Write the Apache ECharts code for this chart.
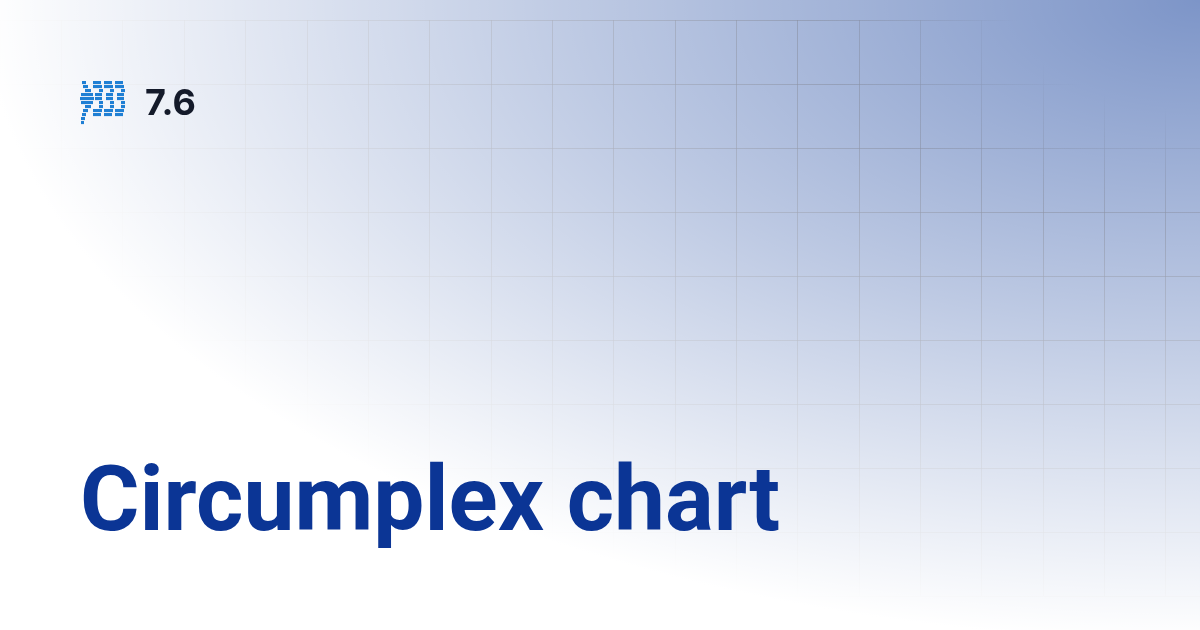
<!DOCTYPE html>
<html>
<head>
<meta charset="utf-8">
<script src="https://cdn.jsdelivr.net/npm/echarts@6/dist/echarts.min.js"></script>
<style>
html,body{margin:0;padding:0;background:#fff;}
#c{width:1200px;height:630px;}
</style>
</head>
<body>
<div id="c"></div>
<script>
// ---- content (no numeric data in this banner) ----
const titleText = 'Circumplex chart';
const versionText = '7.6';
// grid of the backdrop: spacing of the vertical and horizontal rules
const columnStep = [61.35];
const rowStep = [64];
// logo stripes: [row y, [x0,x1], ...]
const logoRows = [
  [81, [82,86],[93,101],[104,112],[115,123]],
  [85, [83,88],[93,102],[104,113],[115,124]],
  [89, [85,91],[99,103],[110,114],[121,125]],
  [93, [81,93],[95,102],[106,113],[117,124]],
  [97, [80,94],[95,102],[106,113],[117,124]],
  [101,[81,93],[99,103],[110,114],[121,125]],
  [105,[85,91],[99,103],[110,114],[121,125]],
  [109,[83,88],[93,102],[104,113],[115,124]],
  [113,[82,86],[93,101],[104,112],[115,123]],
  [117,[81,85]],
  [121,[81,84]]
];

const chart = echarts.init(document.getElementById('c'), null, {renderer:'canvas'});

const base = '125,149,200';
const sx = 1.9;
const localW = 1200 / sx;
const ruleColor = 'rgba(80,90,115,0.55)';

const logoEls = [];
logoRows.forEach(r => {
  const y = r[0];
  for (let i = 1; i < r.length; i++) {
    logoEls.push({
      type: 'rect', z: 120, silent: true,
      shape: {x: r[i][0], y: y, width: r[i][1] - r[i][0], height: 3.1},
      style: {fill: '#1f7fd4'}
    });
  }
});

const option = {
  backgroundColor: 'rgb(' + base + ')',
  animation: false,
  grid: {left: 0, right: 0, top: 20, bottom: 34, containLabel: false},
  xAxis: {
    type: 'value', min: 0, max: 1200, interval: columnStep[0],
    axisLine: {show: false}, axisTick: {show: false}, axisLabel: {show: false},
    splitLine: {show: true, lineStyle: {color: ruleColor, width: 1}}
  },
  yAxis: {
    type: 'value', inverse: true, min: 0, max: 576, interval: rowStep[0],
    axisLine: {show: false}, axisTick: {show: false}, axisLabel: {show: false},
    splitLine: {show: true, lineStyle: {color: ruleColor, width: 1}}
  },
  series: [{type: 'scatter', data: [], silent: true}],
  graphic: {
    elements: [
      // hide rules near the top-right corner (ellipse, wider than tall)
      {
        type: 'circle', z: 50, silent: true,
        originX: 1200, originY: 0, scaleX: 1.7, scaleY: 1,
        shape: {cx: 1200, cy: 0, r: 260},
        style: {fill: {type: 'radial', x: 0.5, y: 0.5, r: 0.5, colorStops: [
          {offset: 0, color: 'rgba(' + base + ',1)'},
          {offset: 0.42, color: 'rgba(' + base + ',1)'},
          {offset: 0.88, color: 'rgba(' + base + ',0)'}
        ]}}
      },
      // white elliptical wash from the bottom-left
      {
        type: 'rect', z: 60, silent: true,
        scaleX: sx, scaleY: 1, originX: 0, originY: 0,
        shape: {x: 0, y: 0, width: localW, height: 630},
        style: {fill: {type: 'radial', x: 1, y: 0, r: 660 / 630, colorStops: [
          {offset: 0, color: 'rgba(255,255,255,0)'},
          {offset: 0.5, color: 'rgba(255,255,255,0.5)'},
          {offset: 0.97, color: 'rgba(255,255,255,1)'},
          {offset: 1, color: 'rgba(255,255,255,1)'}
        ]}}
      },
      {
        type: 'text', z: 120, silent: true,
        x: 145, y: 104,
        style: {
          text: versionText, fill: '#141a2a',
          font: 'bold 36px Inter, "Noto Sans", sans-serif',
          verticalAlign: 'middle', align: 'left'
        }
      },
      {
        type: 'text', z: 120, silent: true,
        x: 80, y: 507,
        style: {
          text: titleText, fill: '#0b3595',
          font: 'bold 91px Roboto, "Liberation Sans", sans-serif',
          verticalAlign: 'middle', align: 'left'
        }
      }
    ].concat(logoEls)
  }
};
chart.setOption(option);
</script>
</body>
</html>
